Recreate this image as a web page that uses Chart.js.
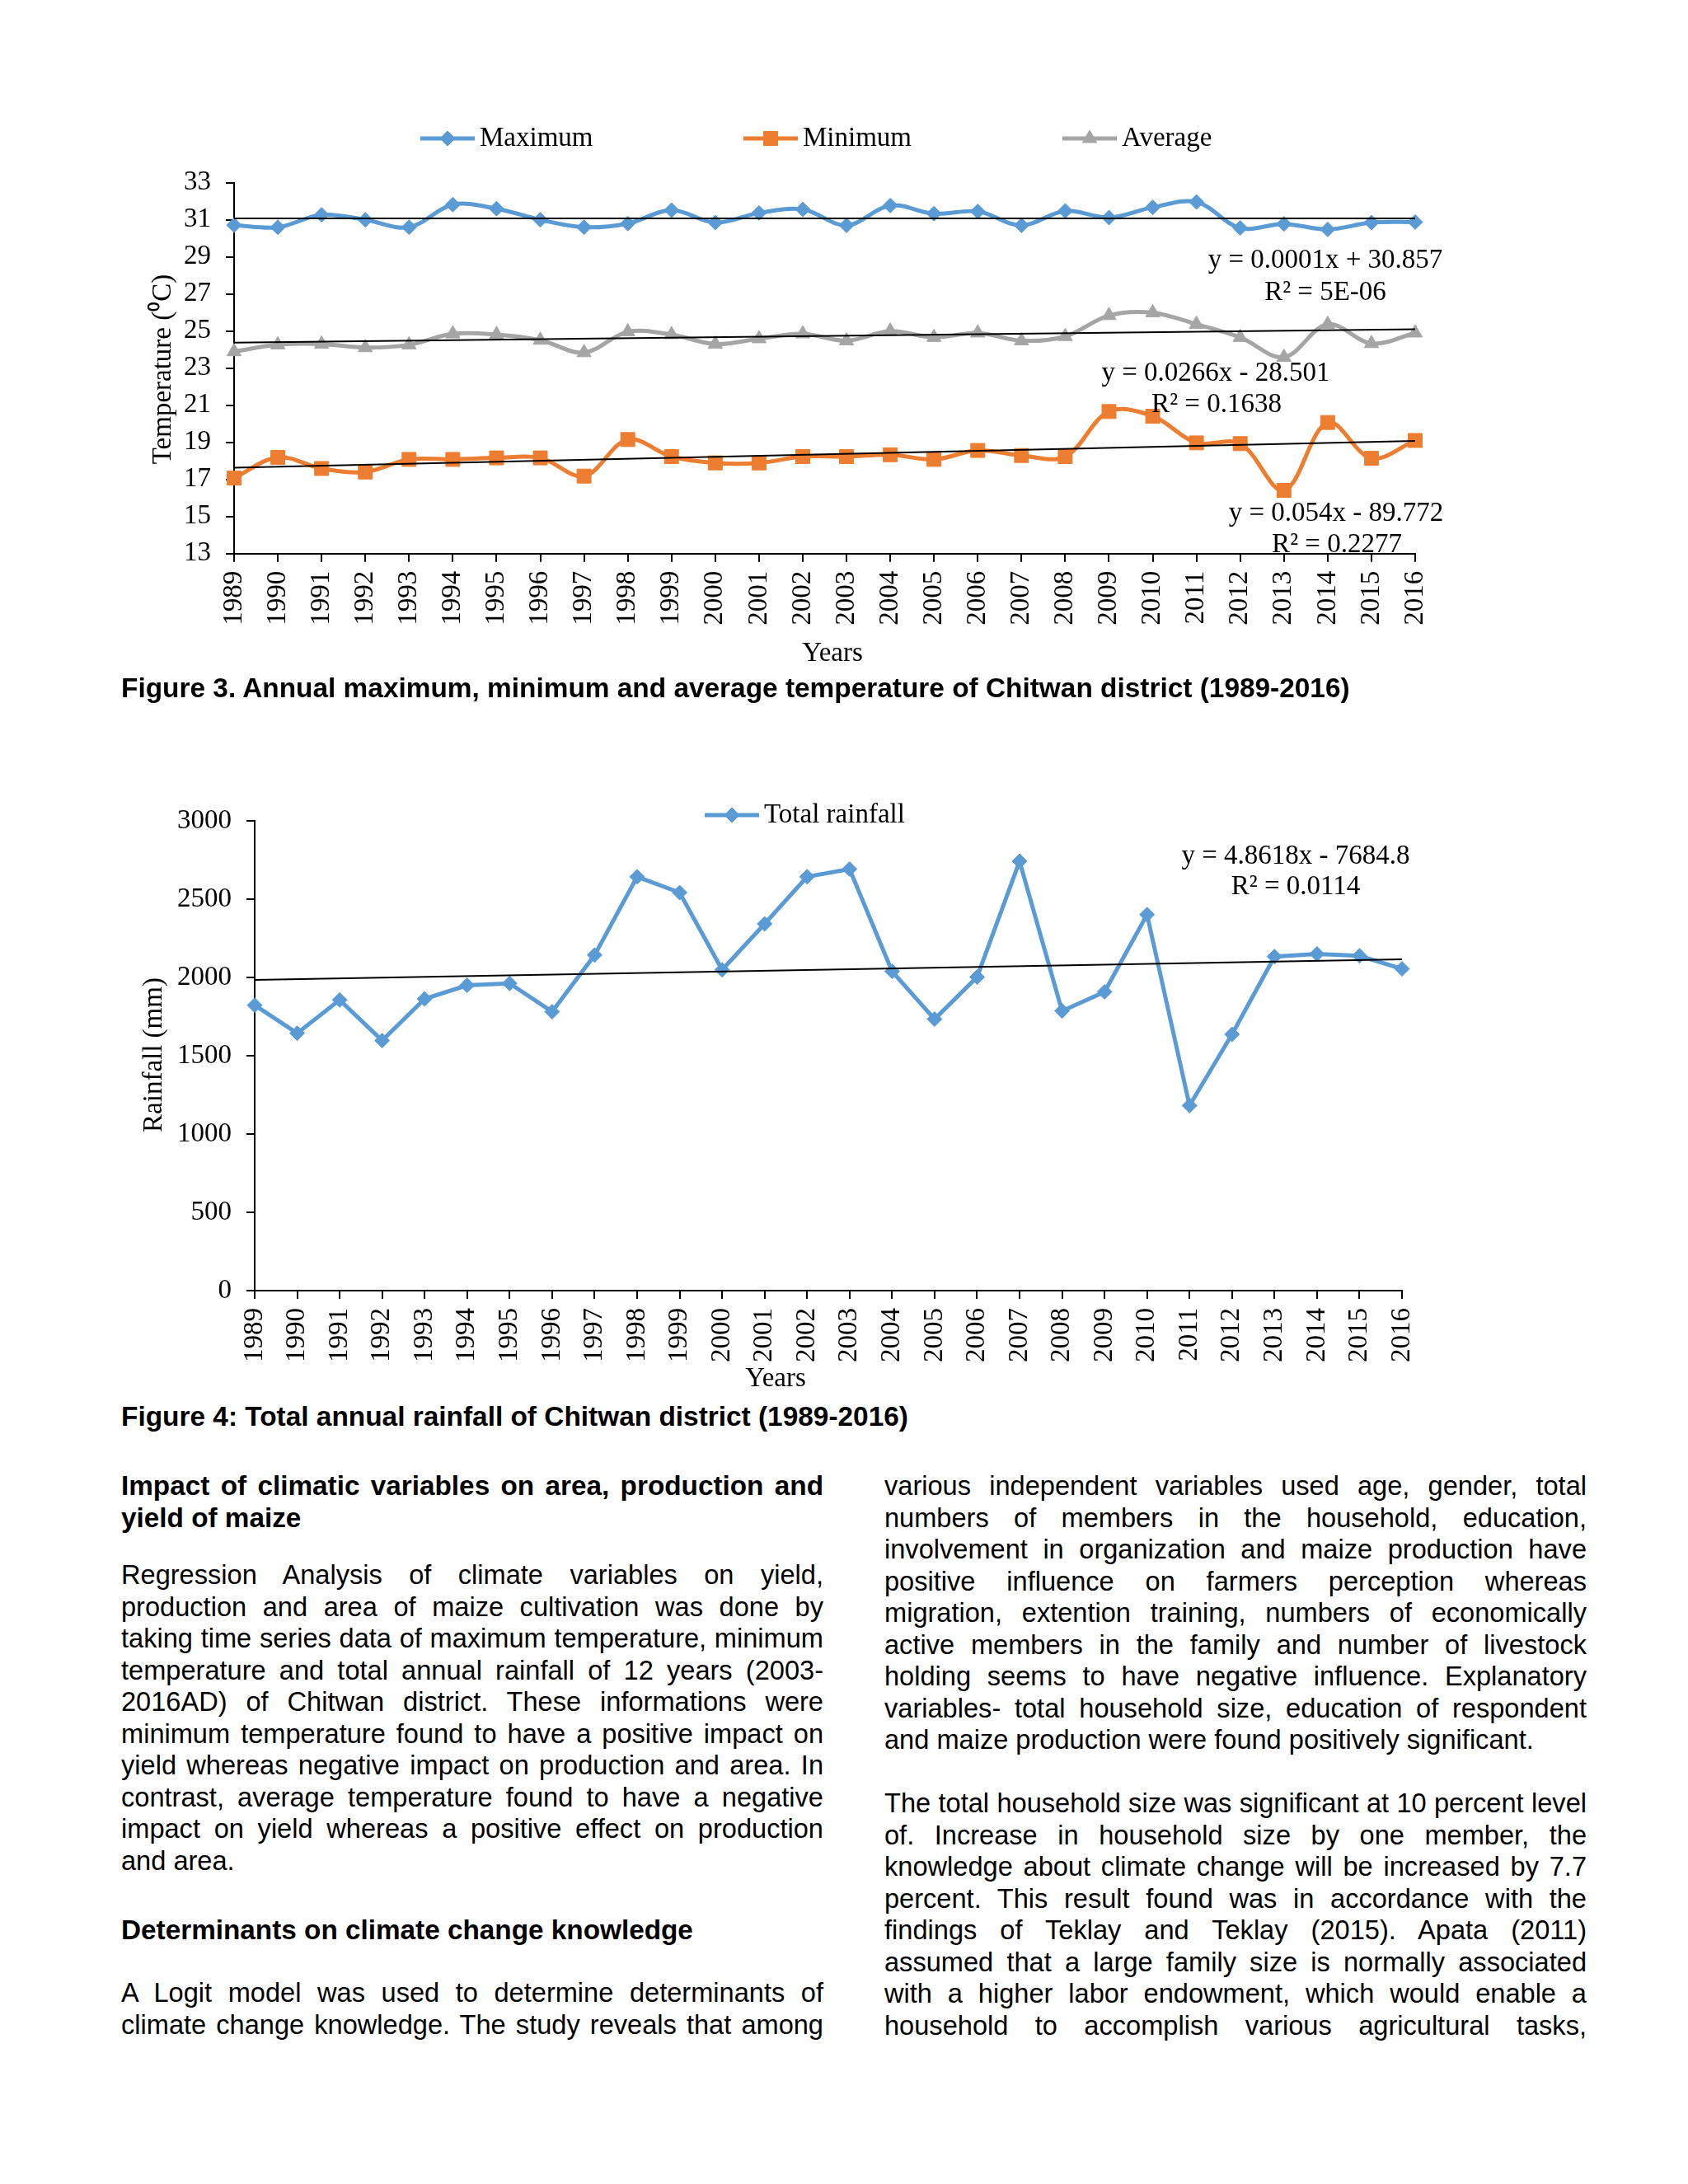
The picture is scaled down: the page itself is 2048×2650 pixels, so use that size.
<!DOCTYPE html>
<html>
<head>
<meta charset="utf-8">
<script src="https://cdn.jsdelivr.net/npm/chart.js@4.4.1/dist/chart.umd.min.js"></script>
<style>
  html, body { margin: 0; padding: 0; background: #fff; }
  body { width: 2048px; height: 2650px; position: relative; overflow: hidden; }
  canvas { position: absolute; left: 0; }
  #tempChart { top: 100px; }
  #rainChart { top: 900px; }
  .cap { position: absolute; left: 147px; font: bold 33.4px "Liberation Sans", Arial, sans-serif; line-height: 38px; white-space: nowrap; color: #000; }
  .col { position: absolute; width: 852px; font-family: "Liberation Sans", Arial, sans-serif; font-size: 32.6px; color: #000; }
  .col div { height: 38.5px; line-height: 38.5px; white-space: nowrap; }
  .col .b { font-weight: bold; font-size: 33.3px; }
</style>
</head>
<body>

<canvas id="tempChart" width="2048" height="720"></canvas>
<div class="cap" style="top:816px">Figure 3. Annual maximum, minimum and average temperature of Chitwan district (1989-2016)</div>

<canvas id="rainChart" width="2048" height="800"></canvas>
<div class="cap" style="top:1700px">Figure 4: Total annual rainfall of Chitwan district (1989-2016)</div>

<div class="col" style="left:147px; top:1784px">
  <div class="b j"><span>Impact of climatic variables on area, production and</span></div>
  <div class="b"><span>yield of maize</span></div>
</div>
<div class="col" style="left:147px; top:1892px">
  <div class="j"><span>Regression Analysis of climate variables on yield,</span></div>
  <div class="j"><span>production and area of maize cultivation was done by</span></div>
  <div class="j"><span>taking time series data of maximum temperature, minimum</span></div>
  <div class="j"><span>temperature and total annual rainfall of 12 years (2003-</span></div>
  <div class="j"><span>2016AD) of Chitwan district. These informations were</span></div>
  <div class="j"><span>minimum temperature found to have a positive impact on</span></div>
  <div class="j"><span>yield whereas negative impact on production and area. In</span></div>
  <div class="j"><span>contrast, average temperature found to have a negative</span></div>
  <div class="j"><span>impact on yield whereas a positive effect on production</span></div>
  <div><span>and area.</span></div>
</div>
<div class="col" style="left:147px; top:2323px">
  <div class="b"><span>Determinants on climate change knowledge</span></div>
</div>
<div class="col" style="left:147px; top:2399px">
  <div class="j"><span>A Logit model was used to determine determinants of</span></div>
  <div class="j"><span>climate change knowledge. The study reveals that among</span></div>
</div>

<div class="col" style="left:1073px; top:1784px">
  <div class="j"><span>various independent variables used age, gender, total</span></div>
  <div class="j"><span>numbers of members in the household, education,</span></div>
  <div class="j"><span>involvement in organization and maize production have</span></div>
  <div class="j"><span>positive influence on farmers perception whereas</span></div>
  <div class="j"><span>migration, extention training, numbers of economically</span></div>
  <div class="j"><span>active members in the family and number of livestock</span></div>
  <div class="j"><span>holding seems to have negative influence. Explanatory</span></div>
  <div class="j"><span>variables- total household size, education of respondent</span></div>
  <div><span>and maize production were found positively significant.</span></div>
</div>
<div class="col" style="left:1073px; top:2169px">
  <div class="j"><span>The total household size was significant at 10 percent level</span></div>
  <div class="j"><span>of. Increase in household size by one member, the</span></div>
  <div class="j"><span>knowledge about climate change will be increased by 7.7</span></div>
  <div class="j"><span>percent. This result found was in accordance with the</span></div>
  <div class="j"><span>findings of Teklay and Teklay (2015). Apata (2011)</span></div>
  <div class="j"><span>assumed that a large family size is normally associated</span></div>
  <div class="j"><span>with a higher labor endowment, which would enable a</span></div>
  <div class="j"><span>household to accomplish various agricultural tasks,</span></div>
</div>

<script>
// data
const years = ['1989', '1990', '1991', '1992', '1993', '1994', '1995', '1996', '1997', '1998',
  '1999', '2000', '2001', '2002', '2003', '2004', '2005', '2006', '2007', '2008',
  '2009', '2010', '2011', '2012', '2013', '2014', '2015', '2016'];

const maxTemp = [30.71, 30.6, 31.27, 31.0, 30.6, 31.82, 31.6, 31.0, 30.6, 30.8,
  31.52, 30.85, 31.37, 31.56, 30.7, 31.77, 31.33, 31.45, 30.7, 31.48,
  31.12, 31.67, 31.96, 30.56, 30.78, 30.48, 30.85, 30.88];
const minTemp = [17.07, 18.19, 17.59, 17.4, 18.08, 18.08, 18.16, 18.16, 17.18, 19.15,
  18.23, 17.89, 17.89, 18.23, 18.23, 18.33, 18.08, 18.56, 18.29, 18.23,
  20.66, 20.41, 18.97, 18.93, 16.41, 20.07, 18.14, 19.1];
const avgTemp = [23.89, 24.26, 24.3, 24.11, 24.26, 24.85, 24.81, 24.51, 23.84, 24.96,
  24.81, 24.3, 24.59, 24.85, 24.48, 25.0, 24.66, 24.9, 24.48, 24.71,
  25.84, 25.99, 25.37, 24.66, 23.59, 25.37, 24.33, 24.9];

// trendline ends (first year, last year)
const maxTrend = [31.08, 31.08];
const minTrend = [17.63, 19.08];
const avgTrend = [24.38, 25.1];

const rainfall = [1823, 1644, 1856, 1597, 1863, 1950, 1962, 1781, 2143, 2643,
  2542, 2049, 2342, 2643, 2692, 2039, 1734, 2002, 2742, 1786,
  1908, 2401, 1182, 1637, 2133, 2150, 2138, 2055];
const rainTrend = [1984, 2116];

const tempEquations = ['y = 0.0001x + 30.857', 'R² = 5E-06', 'y = 0.0266x - 28.501', 'R² = 0.1638', 'y = 0.054x - 89.772', 'R² = 0.2277'];
const rainEquations = ['y = 4.8618x - 7684.8', 'R² = 0.0114'];

const serif = "'Liberation Serif', 'Times New Roman', serif";
Chart.defaults.font.family = serif;
Chart.defaults.font.size = 33;
Chart.defaults.color = '#000';

const BLUE = '#5B9BD5', ORANGE = '#ED7D31', GREY = '#A5A5A5';

function trendData(ends) {
  return years.map((y, i) => i === 0 ? ends[0] : (i === years.length - 1 ? ends[1] : null));
}

function series(label, data, color, style, radius, tension) {
  return {
    label, data, borderColor: color, backgroundColor: color, borderWidth: 5,
    pointStyle: style, pointRadius: radius, pointBackgroundColor: color,
    pointBorderColor: color, pointBorderWidth: 1, tension, order: 2
  };
}

function trend(ends) {
  return {
    label: '', data: trendData(ends), borderColor: '#000', borderWidth: 2,
    pointRadius: 0, spanGaps: true, tension: 0, order: 1
  };
}

// legend, equations and axis titles drawn as text on the canvas
const textPlugin = {
  id: 'pageText',
  afterDraw(chart, args, opts) {
    const ctx = chart.ctx;
    ctx.save();
    ctx.font = '33px ' + serif;
    ctx.fillStyle = '#000';
    ctx.textBaseline = 'middle';
    (opts.legend || []).forEach(item => {
      const ds = chart.data.datasets[item.ds];
      ctx.strokeStyle = ds.borderColor;
      ctx.lineWidth = ds.borderWidth;
      ctx.beginPath();
      ctx.moveTo(item.x, item.y);
      ctx.lineTo(item.x + 66, item.y);
      ctx.stroke();
      ctx.fillStyle = ds.borderColor;
      ctx.lineWidth = 1;
      Chart.helpers.drawPoint(ctx, { pointStyle: ds.pointStyle, radius: ds.pointRadius, borderWidth: 1, rotation: 0 }, item.x + 33, item.y);
      ctx.fillStyle = '#000';
      ctx.textAlign = 'left';
      ctx.fillText(ds.label, item.x + 72, item.y);
    });
    (opts.items || []).forEach(item => {
      ctx.save();
      ctx.translate(item.x, item.y);
      if (item.rotate) ctx.rotate(-Math.PI / 2);
      ctx.textAlign = 'center';
      ctx.fillText(item.text, 0, 0);
      ctx.restore();
    });
    ctx.restore();
  }
};

function axes(yMin, yMax, step) {
  return {
    x: {
      offset: false,
      grid: { display: true, drawOnChartArea: false, tickLength: 10, color: '#000', lineWidth: 2 },
      border: { display: true, color: '#000', width: 2 },
      ticks: { minRotation: 90, maxRotation: 90, autoSkip: false, padding: 11 },
      afterFit: s => { s.height = 110; }
    },
    y: {
      min: yMin, max: yMax,
      grid: { display: true, drawOnChartArea: false, tickLength: 10, color: '#000', lineWidth: 2 },
      border: { display: true, color: '#000', width: 2 },
      ticks: { stepSize: step, padding: 18, callback: v => String(v) },
      afterFit: s => { s.width = 130; }
    }
  };
}

new Chart(document.getElementById('tempChart'), {
  type: 'line',
  data: {
    labels: years,
    datasets: [
      series('Maximum', maxTemp, BLUE, 'rectRot', 9, 0.35),
      series('Minimum', minTemp, ORANGE, 'rect', 12, 0.35),
      series('Average', avgTemp, GREY, 'triangle', 10, 0.35),
      trend(maxTrend),
      trend(minTrend),
      trend(avgTrend)
    ]
  },
  options: {
    responsive: false,
    animation: false,
    layout: { padding: { left: 154, right: 331, top: 121.7, bottom: 38.3 } },
    scales: axes(13, 33, 2),
    plugins: {
      legend: { display: false },
      tooltip: { enabled: false },
      pageText: {
        legend: [{ ds: 0, x: 510, y: 68 }, { ds: 1, x: 902, y: 68 }, { ds: 2, x: 1289, y: 68 }],
        items: [
          { text: tempEquations[0], x: 1608, y: 216.7 },
          { text: tempEquations[1], x: 1608, y: 255 },
          { text: tempEquations[2], x: 1475, y: 353 },
          { text: tempEquations[3], x: 1476, y: 391.7 },
          { text: tempEquations[4], x: 1621, y: 523 },
          { text: tempEquations[5], x: 1622, y: 561.7 },
          { text: 'Temperature (⁰C)', x: 198, y: 348, rotate: true },
          { text: 'Years', x: 1010, y: 693 }
        ]
      }
    }
  },
  plugins: [textPlugin]
});

new Chart(document.getElementById('rainChart'), {
  type: 'line',
  data: {
    labels: years,
    datasets: [
      series('Total rainfall', rainfall, BLUE, 'rectRot', 9, 0),
      trend(rainTrend)
    ]
  },
  options: {
    responsive: false,
    animation: false,
    layout: { padding: { left: 179, right: 347, top: 96, bottom: 24 } },
    scales: axes(0, 3000, 500),
    plugins: {
      legend: { display: false },
      tooltip: { enabled: false },
      pageText: {
        legend: [{ ds: 0, x: 855, y: 89 }],
        items: [
          { text: rainEquations[0], x: 1572, y: 139 },
          { text: rainEquations[1], x: 1572, y: 176 },
          { text: 'Rainfall (mm)', x: 187, y: 380, rotate: true },
          { text: 'Years', x: 941, y: 773 }
        ]
      }
    }
  },
  plugins: [textPlugin]
});

// justify the body lines by stretching word spacing to the column width
document.querySelectorAll('.col .j').forEach(div => {
  const span = div.firstElementChild;
  const w = span.getBoundingClientRect().width;
  const gaps = (span.textContent.match(/ /g) || []).length;
  if (gaps) span.style.wordSpacing = ((852 - w) / gaps) + 'px';
});
</script>
</body>
</html>
